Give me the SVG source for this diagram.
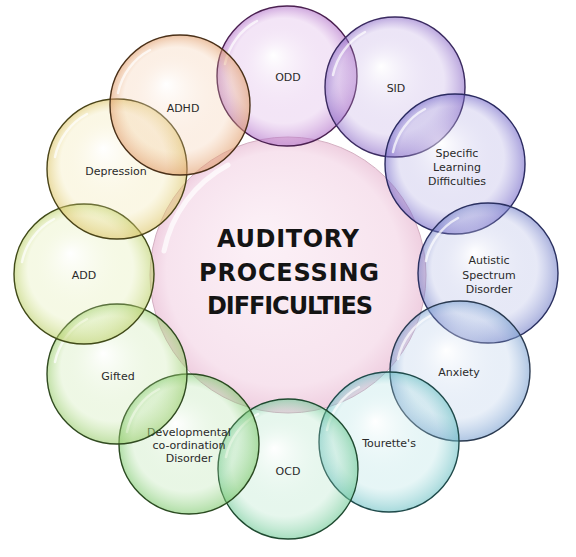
<svg xmlns="http://www.w3.org/2000/svg" width="576" height="557" viewBox="0 0 576 557">
<style>
.lbl{font-family:"DejaVu Sans","Liberation Sans",sans-serif;font-size:11px;fill:#2a2a2a;text-anchor:middle}
.title{font-family:"DejaVu Sans","Liberation Sans",sans-serif;font-size:24px;font-weight:bold;fill:#141414;text-anchor:middle}
.ring{stroke-width:1.4}
.shine{fill:none;stroke:#fff;stroke-opacity:0.7;stroke-width:2.5;stroke-linecap:round}
</style>
<defs>
<radialGradient id="gC" cx="50%" cy="50%" r="50%" fx="40%" fy="35%"><stop offset="0" stop-color="#fcf1f7"/><stop offset="0.85" stop-color="#f7e3ee"/><stop offset="1" stop-color="#efcfe0"/></radialGradient>
<radialGradient id="g1" cx="50%" cy="50%" r="50%" fx="40%" fy="35%"><stop offset="0" stop-color="#fff" stop-opacity="0.5"/><stop offset="0.75" stop-color="#c98ad8" stop-opacity="0.22"/><stop offset="1" stop-color="#b070c8" stop-opacity="0.6"/></radialGradient>
<radialGradient id="g2" cx="50%" cy="50%" r="50%" fx="40%" fy="35%"><stop offset="0" stop-color="#fff" stop-opacity="0.5"/><stop offset="0.75" stop-color="#a98ad8" stop-opacity="0.22"/><stop offset="1" stop-color="#8e6ec8" stop-opacity="0.6"/></radialGradient>
<radialGradient id="g3" cx="50%" cy="50%" r="50%" fx="40%" fy="35%"><stop offset="0" stop-color="#fff" stop-opacity="0.5"/><stop offset="0.75" stop-color="#9088d6" stop-opacity="0.22"/><stop offset="1" stop-color="#7468c8" stop-opacity="0.6"/></radialGradient>
<radialGradient id="g4" cx="50%" cy="50%" r="50%" fx="40%" fy="35%"><stop offset="0" stop-color="#fff" stop-opacity="0.5"/><stop offset="0.75" stop-color="#909ad8" stop-opacity="0.22"/><stop offset="1" stop-color="#7480c8" stop-opacity="0.6"/></radialGradient>
<radialGradient id="g5" cx="50%" cy="50%" r="50%" fx="40%" fy="35%"><stop offset="0" stop-color="#fff" stop-opacity="0.5"/><stop offset="0.75" stop-color="#9ab8e0" stop-opacity="0.22"/><stop offset="1" stop-color="#7aa0d0" stop-opacity="0.6"/></radialGradient>
<radialGradient id="g6" cx="50%" cy="50%" r="50%" fx="40%" fy="35%"><stop offset="0" stop-color="#fff" stop-opacity="0.5"/><stop offset="0.75" stop-color="#8fd4d6" stop-opacity="0.22"/><stop offset="1" stop-color="#6cc0c4" stop-opacity="0.6"/></radialGradient>
<radialGradient id="g7" cx="50%" cy="50%" r="50%" fx="40%" fy="35%"><stop offset="0" stop-color="#fff" stop-opacity="0.5"/><stop offset="0.75" stop-color="#8fd8ae" stop-opacity="0.22"/><stop offset="1" stop-color="#6cc894" stop-opacity="0.6"/></radialGradient>
<radialGradient id="g8" cx="50%" cy="50%" r="50%" fx="40%" fy="35%"><stop offset="0" stop-color="#fff" stop-opacity="0.5"/><stop offset="0.75" stop-color="#9ad88a" stop-opacity="0.22"/><stop offset="1" stop-color="#7cc86c" stop-opacity="0.6"/></radialGradient>
<radialGradient id="g9" cx="50%" cy="50%" r="50%" fx="40%" fy="35%"><stop offset="0" stop-color="#fff" stop-opacity="0.5"/><stop offset="0.75" stop-color="#b4de8a" stop-opacity="0.22"/><stop offset="1" stop-color="#98cc6c" stop-opacity="0.6"/></radialGradient>
<radialGradient id="g10" cx="50%" cy="50%" r="50%" fx="40%" fy="35%"><stop offset="0" stop-color="#fff" stop-opacity="0.5"/><stop offset="0.75" stop-color="#d4e48a" stop-opacity="0.22"/><stop offset="1" stop-color="#bcd06a" stop-opacity="0.6"/></radialGradient>
<radialGradient id="g11" cx="50%" cy="50%" r="50%" fx="40%" fy="35%"><stop offset="0" stop-color="#fff" stop-opacity="0.5"/><stop offset="0.75" stop-color="#ecdc8a" stop-opacity="0.22"/><stop offset="1" stop-color="#dcc466" stop-opacity="0.6"/></radialGradient>
<radialGradient id="g12" cx="50%" cy="50%" r="50%" fx="40%" fy="35%"><stop offset="0" stop-color="#fff" stop-opacity="0.5"/><stop offset="0.75" stop-color="#f0b88a" stop-opacity="0.22"/><stop offset="1" stop-color="#e09c6a" stop-opacity="0.6"/></radialGradient>
<path id="shine" d="M -62,-12 A 63 63 0 0 1 -30,-55"/>
</defs>
<rect width="576" height="557" fill="#fff"/>
<g id="center">
<circle cx="288" cy="275" r="138" fill="url(#gC)" stroke="#d4b0c2" stroke-width="1"/>
<use href="#shine" class="shine" transform="translate(288,275) scale(2)" stroke-opacity="0.3"/>
<text class="title" x="288" y="247" textLength="142" lengthAdjust="spacing">AUDITORY</text>
<text class="title" x="289" y="281" textLength="180" lengthAdjust="spacing">PROCESSING</text>
<text class="title" x="290" y="314" textLength="166" lengthAdjust="spacing">DIFFICULTIES</text>
</g>
<g id="connectors"></g>
<g id="n-odd"><circle class="ring" cx="287" cy="76" r="70" fill="url(#g1)" stroke="#4a2050"/><use href="#shine" class="shine" transform="translate(287,76)"/><text class="lbl" x="288" y="81">ODD</text></g>
<g id="n-sid"><circle class="ring" cx="395" cy="87" r="70" fill="url(#g2)" stroke="#3a2a60"/><use href="#shine" class="shine" transform="translate(395,87)"/><text class="lbl" x="396" y="92">SID</text></g>
<g id="n-sld"><circle class="ring" cx="455" cy="164" r="70" fill="url(#g3)" stroke="#2a2a60"/><use href="#shine" class="shine" transform="translate(455,164)"/><text class="lbl" x="457" y="157">Specific</text><text class="lbl" x="457" y="171">Learning</text><text class="lbl" x="457" y="185">Difficulties</text></g>
<g id="n-asd"><circle class="ring" cx="488" cy="273" r="70" fill="url(#g4)" stroke="#2a3060"/><use href="#shine" class="shine" transform="translate(488,273)"/><text class="lbl" x="489" y="264">Autistic</text><text class="lbl" x="489" y="279">Spectrum</text><text class="lbl" x="489" y="293">Disorder</text></g>
<g id="n-anx"><circle class="ring" cx="460" cy="371" r="70" fill="url(#g5)" stroke="#2a3a50"/><use href="#shine" class="shine" transform="translate(460,371)"/><text class="lbl" x="459" y="376">Anxiety</text></g>
<g id="n-tou"><circle class="ring" cx="389" cy="442" r="70" fill="url(#g6)" stroke="#1f4a4a"/><use href="#shine" class="shine" transform="translate(389,442)"/><text class="lbl" x="389" y="447">Tourette's</text></g>
<g id="n-ocd"><circle class="ring" cx="288" cy="469" r="70" fill="url(#g7)" stroke="#1f4a30"/><use href="#shine" class="shine" transform="translate(288,469)"/><text class="lbl" x="288" y="475">OCD</text></g>
<g id="n-dcd"><circle class="ring" cx="189" cy="444" r="70" fill="url(#g8)" stroke="#2a4a20"/><use href="#shine" class="shine" transform="translate(189,444)"/><text class="lbl" x="189" y="436" font-size="10">Developmental</text><text class="lbl" x="189" y="449" font-size="10">co-ordination</text><text class="lbl" x="189" y="462" font-size="10">Disorder</text></g>
<g id="n-gif"><circle class="ring" cx="117" cy="374" r="70" fill="url(#g9)" stroke="#304a20"/><use href="#shine" class="shine" transform="translate(117,374)"/><text class="lbl" x="118" y="380">Gifted</text></g>
<g id="n-add"><circle class="ring" cx="84" cy="274" r="70" fill="url(#g10)" stroke="#404a18"/><use href="#shine" class="shine" transform="translate(84,274)"/><text class="lbl" x="84" y="279">ADD</text></g>
<g id="n-dep"><circle class="ring" cx="117" cy="169" r="70" fill="url(#g11)" stroke="#4a4418"/><use href="#shine" class="shine" transform="translate(117,169)"/><text class="lbl" x="116" y="175">Depression</text></g>
<g id="n-adhd"><circle class="ring" cx="180" cy="105" r="70" fill="url(#g12)" stroke="#4a3018"/><use href="#shine" class="shine" transform="translate(180,105)"/><text class="lbl" x="183" y="112">ADHD</text></g>
</svg>
